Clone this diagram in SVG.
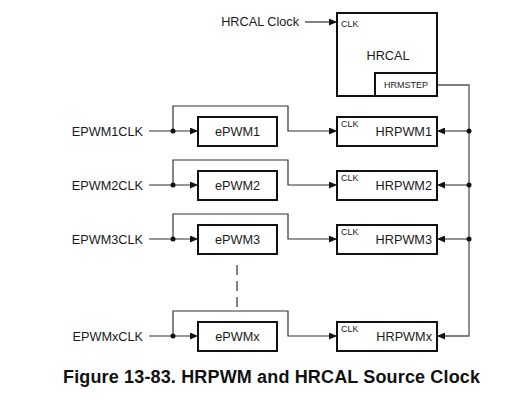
<svg xmlns="http://www.w3.org/2000/svg" width="532" height="402" viewBox="0 0 532 402">
<defs>
<marker id="arr" viewBox="0 0 8 7" refX="8" refY="3.5" markerWidth="8" markerHeight="7" markerUnits="userSpaceOnUse" orient="auto">
<path d="M0,0 L8,3.5 L0,7 z" fill="#111"/>
</marker>
<style>
.box{fill:#fff;stroke:#111;stroke-width:2}
.ln{fill:none;stroke:#333;stroke-width:1.2}
.bus{fill:none;stroke:#555;stroke-width:1.3}
.t{font-family:"Liberation Sans",Arial,sans-serif;font-size:12.7px;fill:#1a1a1a}
.s{font-family:"Liberation Sans",Arial,sans-serif;font-size:9px;fill:#1a1a1a}
.dot{fill:#111}
</style>
</defs>
<rect width="532" height="402" fill="#fff"/>

<g id="connectors">
<path class="ln" d="M305,22 H337" marker-end="url(#arr)"/>
<path class="bus" d="M437,85 H469 V336 H437" marker-end="url(#arr)"/>
<path class="bus" d="M469,131 H437" marker-end="url(#arr)"/>
<path class="bus" d="M469,185 H437" marker-end="url(#arr)"/>
<path class="bus" d="M469,239 H437" marker-end="url(#arr)"/>
<circle class="dot" cx="469" cy="131" r="2.5"/>
<circle class="dot" cx="469" cy="185" r="2.5"/>
<circle class="dot" cx="469" cy="239" r="2.5"/>

<path class="ln" d="M149,131 H198" marker-end="url(#arr)"/>
<path class="ln" d="M173,131 V106 H288 V131 H337" marker-end="url(#arr)"/>
<circle class="dot" cx="173" cy="131" r="2.5"/>

<path class="ln" d="M149,185 H198" marker-end="url(#arr)"/>
<path class="ln" d="M173,185 V160 H288 V185 H337" marker-end="url(#arr)"/>
<circle class="dot" cx="173" cy="185" r="2.5"/>

<path class="ln" d="M149,239 H198" marker-end="url(#arr)"/>
<path class="ln" d="M173,239 V214 H288 V239 H337" marker-end="url(#arr)"/>
<circle class="dot" cx="173" cy="239" r="2.5"/>

<path class="ln" d="M149,336 H198" marker-end="url(#arr)"/>
<path class="ln" d="M173,336 V311 H288 V336 H337" marker-end="url(#arr)"/>
<circle class="dot" cx="173" cy="336" r="2.5"/>

<path class="ln" d="M237,265 V308" stroke-dasharray="10,6"/>
</g>

<text class="t" x="299" y="25.5" text-anchor="end">HRCAL Clock</text>

<g id="hrcal">
<rect class="box" x="337" y="13" width="100" height="83"/>
<rect class="box" x="375" y="73" width="62" height="23"/>
<text class="s" x="341" y="27">CLK</text>
<text class="t" x="388" y="60" text-anchor="middle">HRCAL</text>
<text class="s" x="406" y="88" text-anchor="middle">HRMSTEP</text>
</g>

<g id="row1">
<text class="t" x="143" y="135.5" text-anchor="end">EPWM1CLK</text>
<g id="epwm1"><rect class="box" x="198" y="117" width="79" height="29"/><text class="t" x="237.5" y="135.5" text-anchor="middle">ePWM1</text></g>
<g id="hrpwm1"><rect class="box" x="337" y="117" width="100" height="29"/><text class="s" x="341" y="127">CLK</text><text class="t" x="432" y="135.5" text-anchor="end">HRPWM1</text></g>
</g>

<g id="row2">
<text class="t" x="143" y="189.5" text-anchor="end">EPWM2CLK</text>
<g id="epwm2"><rect class="box" x="198" y="171" width="79" height="29"/><text class="t" x="237.5" y="189.5" text-anchor="middle">ePWM2</text></g>
<g id="hrpwm2"><rect class="box" x="337" y="171" width="100" height="29"/><text class="s" x="341" y="181">CLK</text><text class="t" x="432" y="189.5" text-anchor="end">HRPWM2</text></g>
</g>

<g id="row3">
<text class="t" x="143" y="243.5" text-anchor="end">EPWM3CLK</text>
<g id="epwm3"><rect class="box" x="198" y="225" width="79" height="29"/><text class="t" x="237.5" y="243.5" text-anchor="middle">ePWM3</text></g>
<g id="hrpwm3"><rect class="box" x="337" y="225" width="100" height="29"/><text class="s" x="341" y="235">CLK</text><text class="t" x="432" y="243.5" text-anchor="end">HRPWM3</text></g>
</g>

<g id="rowx">
<text class="t" x="143" y="340.5" text-anchor="end">EPWMxCLK</text>
<g id="epwmx"><rect class="box" x="198" y="322" width="79" height="29"/><text class="t" x="237.5" y="340.5" text-anchor="middle">ePWMx</text></g>
<g id="hrpwmx"><rect class="box" x="337" y="322" width="100" height="29"/><text class="s" x="341" y="332">CLK</text><text class="t" x="432" y="340.5" text-anchor="end">HRPWMx</text></g>
</g>

<text x="63" y="383" font-family="'Liberation Sans',Arial,sans-serif" font-weight="bold" font-size="18" fill="#111" textLength="417">Figure 13-83. HRPWM and HRCAL Source Clock</text>
</svg>
